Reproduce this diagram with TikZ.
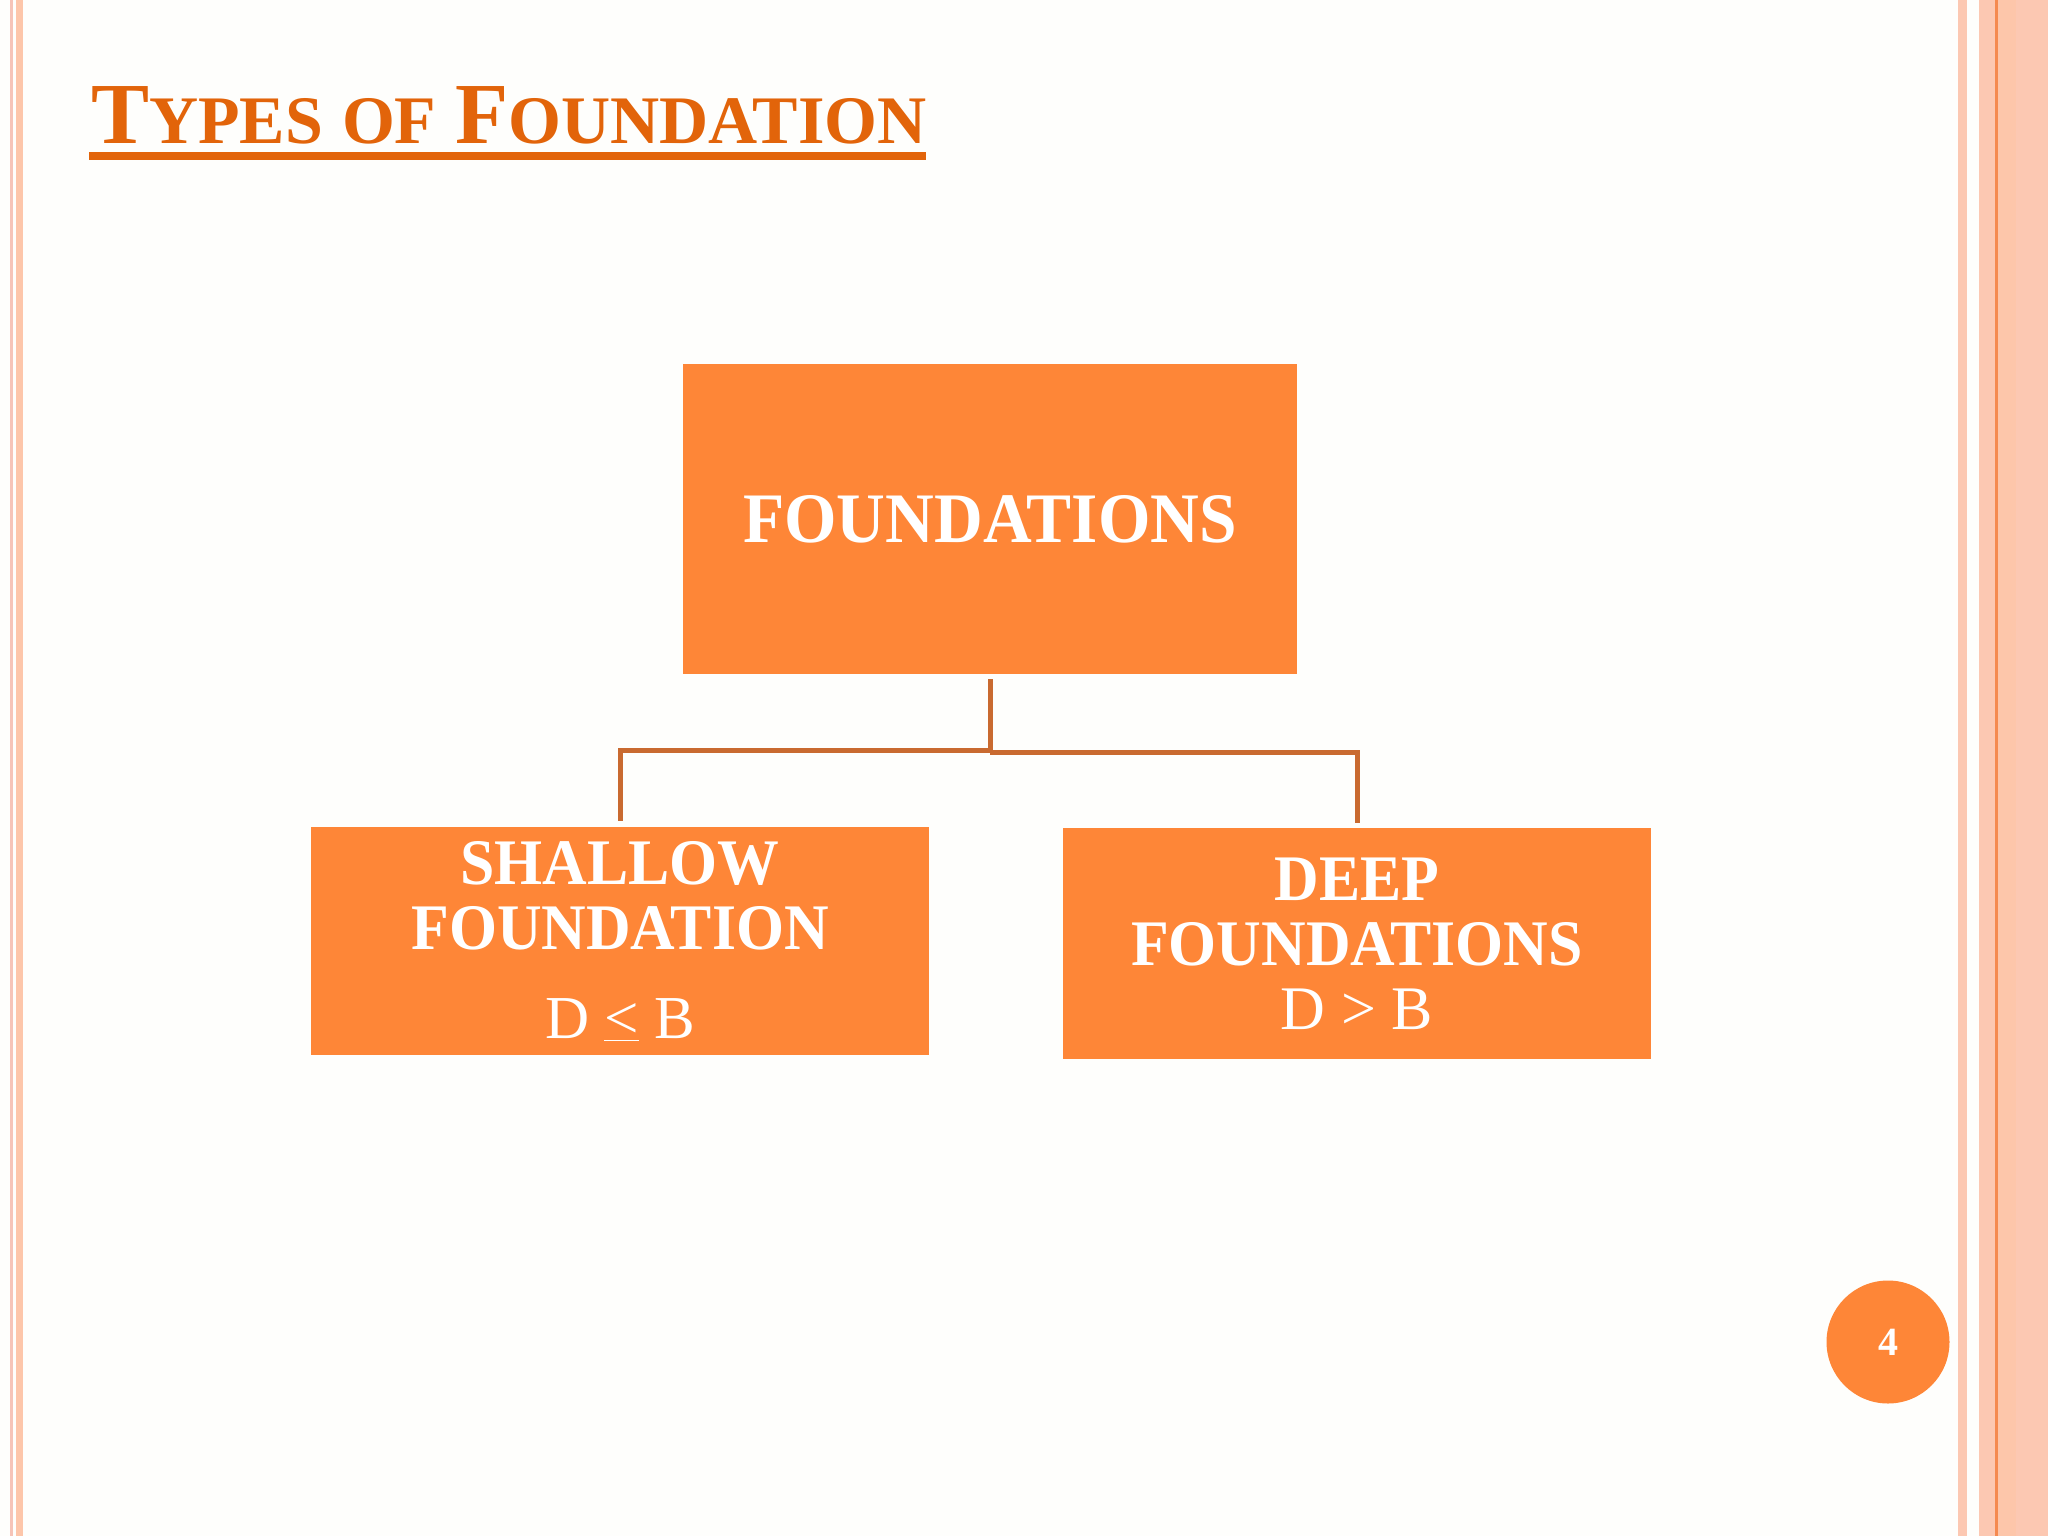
\documentclass[tikz,border=0pt]{standalone}
\usepackage{fontspec}
\setmainfont{Liberation Serif}
\newfontfamily\condfont[FakeStretch=0.95]{Liberation Serif}
\definecolor{bgcol}{HTML}{FEFEFC}
\definecolor{boxcol}{HTML}{FE8637}
\definecolor{titlecol}{HTML}{E2640A}
\definecolor{conncol}{HTML}{C96A30}
\definecolor{stripeA}{HTML}{F6C4B8}
\definecolor{stripeB}{HTML}{FDC6AA}
\definecolor{stripeC}{HTML}{FCC8B2}
\definecolor{stripeD}{HTML}{F58A50}
\tikzset{
  boxnode/.style={rectangle, fill=boxcol, inner sep=0pt, text=white, align=center},
  conn/.style={draw=conncol, line width=5pt},
}
\begin{document}
\begin{tikzpicture}[x=1pt,y=-1pt]
\useasboundingbox (0,0) rectangle (2048,1536);
\fill[bgcol] (0,0) rectangle (2048,1536);
% side stripes
\fill[stripeA] (10,0) rectangle (13,1536);
\fill[stripeB] (16,0) rectangle (23,1536);
\fill[stripeC] (1958,0) rectangle (1967,1536);
\fill[stripeC] (1979,0) rectangle (1995,1536);
\fill[stripeD] (1995,0) rectangle (1997.5,1536);
\fill[stripeB] (1997.5,0) rectangle (2016,1536);
\fill[stripeC] (2016,0) rectangle (2048,1536);
% title
\node[anchor=base west, inner sep=0pt, text=titlecol, font=\bfseries] (title) at (91,144)
  {{\fontsize{87}{87}\selectfont T}{\fontsize{68}{68}\selectfont YPES\hspace{19pt}OF\hspace{19pt}}{\fontsize{87}{87}\selectfont F}{\fontsize{68}{68}\selectfont OUNDATION}};
\fill[titlecol] (89,152) rectangle (926,160);
% boxes
\node[boxnode, minimum width=614pt, minimum height=310pt, font=\condfont\bfseries\fontsize{71}{71}\selectfont] (top) at (990,519) {FOUNDATIONS};
\node[boxnode, minimum width=618pt, minimum height=228pt, font=\condfont\bfseries\fontsize{65}{65}\selectfont] (shallow) at (620,941)
  {SHALLOW\\FOUNDATION\\[24pt]{\normalfont\fontsize{61}{61}\selectfont D \underline{<} B}};
\node[boxnode, minimum width=588pt, minimum height=231pt, font=\condfont\bfseries\fontsize{65}{65}\selectfont] (deep) at (1357,943.5)
  {DEEP\\FOUNDATIONS\\[-1pt]{\normalfont\fontsize{62}{62}\selectfont D > B}};
% connectors
\coordinate (j) at (990,750);
\coordinate (k) at (990,752);
\draw[conn] ([yshift=-5pt]top.south) -- (j) -| ([yshift=6pt]shallow.north);
\draw[conn] (k) -| ([yshift=5pt]deep.north);
% page number
\node[circle, fill=boxcol, minimum size=123pt, inner sep=0pt, text=white, font=\bfseries\fontsize{40}{40}\selectfont] (page) at (1888,1342) {4};
\end{tikzpicture}
\end{document}
